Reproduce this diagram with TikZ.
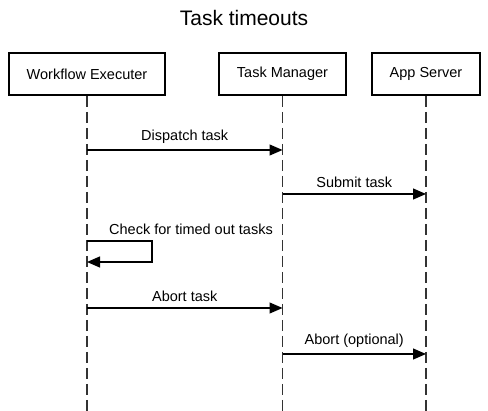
\documentclass[tikz,border=0pt]{standalone}
\usepackage{fontspec}
\setmainfont{Liberation Sans}
\usetikzlibrary{arrows.meta}
\begin{document}
\begin{tikzpicture}[x=1pt,y=-1pt,
  actor/.style={draw=black,line width=2pt,minimum height=42pt,inner sep=0pt,font=\fontsize{14.5}{16}\selectfont,fill=white},
  lifeline/.style={draw=black!80,line width=1.3pt,dash pattern=on 11pt off 5pt},
  msg/.style={draw=black,line width=1.2pt,-{Triangle[length=13pt,width=11pt]}},
  lbl/.style={font=\fontsize{14.5}{16}\selectfont,inner sep=0pt}]
\useasboundingbox (0,0) rectangle (488,411);
\node[font=\fontsize{21}{23}\selectfont] (title) at (244,18) {Task timeouts};
\node[actor,minimum width=156pt] (we) at (87,74) {Workflow Executer};
\node[actor,minimum width=127pt] (tm) at (282.5,74) {Task Manager};
\node[actor,minimum width=108pt] (as) at (426,74) {App Server};
\coordinate (bot) at (0,411);
\draw[lifeline] (we.south) -- (we.south |- bot);
\draw[lifeline] (tm.south) -- (tm.south |- bot);
\draw[lifeline] (as.south) -- (as.south |- bot);
% message anchors on lifelines
\coordinate (we1) at (87,150); \coordinate (tm1) at (282.5,150);
\coordinate (tm2) at (282.5,194); \coordinate (as2) at (426,194);
\coordinate (we3a) at (87,241); \coordinate (we3b) at (87,262); \coordinate (loopx) at (152,0);
\coordinate (we4) at (87,308); \coordinate (tm4) at (282.5,308);
\coordinate (tm5) at (282.5,354); \coordinate (as5) at (426,354);
\draw[msg] (we1) -- node[lbl,above=6pt] (l1) {Dispatch task} (tm1);
\draw[msg] (tm2) -- node[lbl,above=6pt] (l2) {Submit task} (as2);
\draw[msg] (we3a) -- (loopx |- we3a) -- (loopx |- we3b) -- (we3b);
\node[lbl] (l3) at (191,229) {Check for timed out tasks};
\draw[msg] (we4) -- node[lbl,above=6pt] (l4) {Abort task} (tm4);
\draw[msg] (tm5) -- node[lbl,above=6pt] (l5) {Abort (optional)} (as5);
\end{tikzpicture}
\end{document}
